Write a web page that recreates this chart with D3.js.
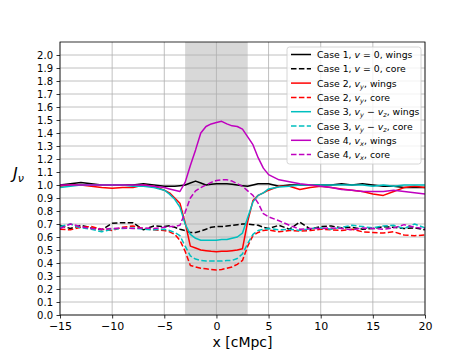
<!DOCTYPE html>
<html><head><meta charset="utf-8">
<script src="https://cdn.jsdelivr.net/npm/d3@7"></script>
<style>body{margin:0;background:#fff}svg{display:block;font-family:"DejaVu Sans",sans-serif}</style>
</head><body><svg id="c" width="474" height="353"></svg>
<script>
const xs = [-15,-14,-13,-12,-11,-10,-9,-8,-7,-6,-5,-4.5,-4,-3.5,-3,-2.5,-2,-1.5,-1,-0.5,0,0.5,1,1.5,2,2.5,3,3.5,4,4.5,5,6,7,8,9,10,11,12,13,14,15,16,17,18,19,20];
const case1Wings = [1.0,1.01,1.02,1.01,1.0,1.0,1.0,1.0,1.01,1.0,0.99,0.99,0.99,0.995,1.0,1.015,1.03,1.015,1.0,1.005,1.01,1.01,1.01,1.005,1.0,0.995,0.99,1.0,1.01,1.01,1.01,0.99,1.0,1.0,1.0,1.0,1.0,1.01,1.0,1.01,1.0,0.99,0.99,0.98,0.98,0.98];
const case1Core = [0.69,0.665,0.69,0.67,0.655,0.705,0.71,0.71,0.655,0.685,0.68,0.687,0.675,0.66,0.65,0.635,0.635,0.645,0.66,0.675,0.68,0.68,0.685,0.69,0.695,0.70,0.70,0.695,0.69,0.675,0.665,0.69,0.66,0.715,0.66,0.68,0.685,0.67,0.675,0.66,0.665,0.68,0.675,0.665,0.67,0.655];
const case2Wings = [0.99,1.0,1.0,0.99,0.98,0.975,0.98,0.98,1.0,0.99,0.96,0.94,0.90,0.86,0.71,0.53,0.515,0.50,0.495,0.49,0.487,0.49,0.49,0.495,0.50,0.51,0.72,0.88,0.92,0.94,0.96,0.99,0.99,0.965,0.98,0.99,0.98,0.97,0.96,0.95,0.93,0.92,0.95,0.98,0.99,0.98];
const case2Core = [0.66,0.655,0.675,0.68,0.66,0.65,0.675,0.685,0.665,0.655,0.65,0.64,0.62,0.575,0.49,0.38,0.37,0.36,0.355,0.35,0.346,0.35,0.36,0.37,0.39,0.42,0.53,0.61,0.635,0.65,0.655,0.64,0.65,0.645,0.65,0.66,0.655,0.65,0.66,0.64,0.635,0.63,0.64,0.615,0.61,0.615];
const case3Wings = [0.98,0.99,1.0,1.0,1.0,1.0,1.0,0.99,0.99,0.98,0.96,0.93,0.89,0.83,0.70,0.62,0.59,0.575,0.575,0.575,0.575,0.58,0.58,0.59,0.60,0.63,0.75,0.87,0.92,0.94,0.97,0.985,0.99,1.0,1.0,1.0,1.0,1.0,1.0,1.0,0.99,1.0,0.99,1.0,1.0,1.0];
const case3Core = [0.68,0.70,0.67,0.66,0.64,0.66,0.665,0.67,0.66,0.655,0.66,0.65,0.635,0.61,0.53,0.455,0.43,0.42,0.415,0.415,0.415,0.415,0.42,0.42,0.435,0.47,0.55,0.62,0.65,0.66,0.665,0.655,0.66,0.65,0.665,0.67,0.66,0.675,0.69,0.68,0.67,0.685,0.69,0.665,0.70,0.67];
const case4Wings = [1.0,1.0,1.0,1.0,1.0,1.0,1.0,1.0,1.0,0.99,0.98,0.97,0.96,0.95,1.02,1.15,1.27,1.40,1.45,1.47,1.48,1.49,1.47,1.455,1.45,1.43,1.37,1.31,1.21,1.13,1.08,1.04,1.025,1.01,1.0,0.99,0.98,0.965,0.96,0.95,0.95,0.95,0.96,0.95,0.94,0.93];
const case4Core = [0.665,0.70,0.68,0.665,0.66,0.665,0.67,0.665,0.67,0.665,0.675,0.68,0.68,0.69,0.79,0.90,0.955,0.98,1.0,1.02,1.035,1.04,1.04,1.03,1.01,0.99,0.955,0.92,0.86,0.78,0.755,0.725,0.69,0.66,0.665,0.665,0.67,0.665,0.655,0.67,0.665,0.66,0.67,0.695,0.675,0.665];
const xTicks = [-15,-10,-5,0,5,10,15,20];
const yTicks = d3.range(0,21).map(i=>i/10);
const band = [-3,3];

const series = [
  {y:case1Wings, color:"#000000", dash:null},
  {y:case1Core, color:"#000000", dash:"5.5,2.4"},
  {y:case2Wings, color:"#ff0000", dash:null},
  {y:case2Core, color:"#ff0000", dash:"5.5,2.4"},
  {y:case3Wings, color:"#00bfbf", dash:null},
  {y:case3Core, color:"#00bfbf", dash:"5.5,2.4"},
  {y:case4Wings, color:"#bf00bf", dash:null},
  {y:case4Core, color:"#bf00bf", dash:"5.5,2.4"}
];
const legendLabels = [
  [["Case 1, "],["v","i"],[" = 0, wings"]],
  [["Case 1, "],["v","i"],[" = 0, core"]],
  [["Case 2, "],["v","i"],["y","is"],[", wings"]],
  [["Case 2, "],["v","i"],["y","is"],[", core"]],
  [["Case 3, "],["v","i"],["y","is"],[" − "],["v","i"],["z","is"],[", wings"]],
  [["Case 3, "],["v","i"],["y","is"],[" − "],["v","i"],["z","is"],[", core"]],
  [["Case 4, "],["v","i"],["x","is"],[", wings"]],
  [["Case 4, "],["v","i"],["x","is"],[", core"]]
];

const svg = d3.select("#c");
const L=60, R=425, T=42, B=315;
const x = d3.scaleLinear().domain([-15,20]).range([L,R]);
const y = d3.scaleLinear().domain([0,2.1]).range([B,T]);

svg.append("rect").attr("x",x(band[0])).attr("y",T).attr("width",x(band[1])-x(band[0])).attr("height",B-T).attr("fill","#d8d8d8");
svg.append("g").selectAll("line").data(xTicks).join("line")
  .attr("x1",d=>x(d)).attr("x2",d=>x(d)).attr("y1",T).attr("y2",B)
  .attr("stroke","#b0b0b0").attr("stroke-width",0.8);
svg.append("g").selectAll("line").data(yTicks).join("line")
  .attr("x1",L).attr("x2",R).attr("y1",d=>y(d)).attr("y2",d=>y(d))
  .attr("stroke","#b0b0b0").attr("stroke-width",0.8);

const line = d3.line().x((d,i)=>x(xs[i])).y(d=>y(d));
series.forEach(s=>{
  svg.append("path").datum(s.y).attr("d",line).attr("fill","none")
    .attr("stroke",s.color).attr("stroke-width",1.5)
    .attr("stroke-dasharray",s.dash).attr("stroke-linejoin","round");
});

const xa = svg.append("g").attr("transform",`translate(0,${B})`)
  .call(d3.axisBottom(x).tickValues(xTicks).tickSize(3.5).tickPadding(3.5).tickFormat(d=>d<0?"−"+Math.abs(d):d));
const ya = svg.append("g").attr("transform",`translate(${L},0)`)
  .call(d3.axisLeft(y).tickValues(yTicks).tickSize(3.5).tickPadding(3.5).tickFormat(d3.format(".1f")));
[xa,ya].forEach(a=>{a.select(".domain").remove();a.selectAll("text").attr("font-family","DejaVu Sans").attr("fill","#000");a.selectAll("line").attr("stroke","#000").attr("stroke-width",0.8);});
xa.selectAll("text").attr("font-size",11);
ya.selectAll("text").attr("font-size",10);
svg.append("rect").attr("x",L).attr("y",T).attr("width",R-L).attr("height",B-T).attr("fill","none").attr("stroke","#000").attr("stroke-width",0.8);

svg.append("text").attr("x",(L+R)/2).attr("y",347).attr("text-anchor","middle").attr("font-size",14).text("x [cMpc]");
const yl = svg.append("text").attr("x",13).attr("y",179).attr("font-size",16);
yl.append("tspan").attr("font-style","italic").text("J");
yl.append("tspan").attr("font-style","italic").attr("font-size",11).attr("dy",3).text("ν");

const lg = svg.append("g");
lg.append("rect").attr("x",287).attr("y",47).attr("width",134).attr("height",117).attr("rx",2.5)
  .attr("fill","#fff").attr("fill-opacity",0.8).attr("stroke","#cccccc").attr("stroke-width",0.8);
series.forEach((s,i)=>{
  const yy = 54.5 + i*14.3;
  lg.append("line").attr("x1",291).attr("x2",311).attr("y1",yy).attr("y2",yy)
    .attr("stroke",s.color).attr("stroke-width",1.5).attr("stroke-dasharray",s.dash);
  const t = lg.append("text").attr("x",317).attr("y",yy+3.5).attr("font-size",9.3);
  let prevSub = false;
  legendLabels[i].forEach(p=>{
    const ts = t.append("tspan").text(p[0]);
    const sub = p[1]==="is";
    if(p[1]==="i") ts.attr("font-style","italic");
    if(sub) ts.attr("font-style","italic").attr("font-size",6.6);
    if(sub && !prevSub) ts.attr("dy",2);
    if(!sub && prevSub) ts.attr("dy",-2);
    prevSub = sub;
  });
});
</script></body></html>
